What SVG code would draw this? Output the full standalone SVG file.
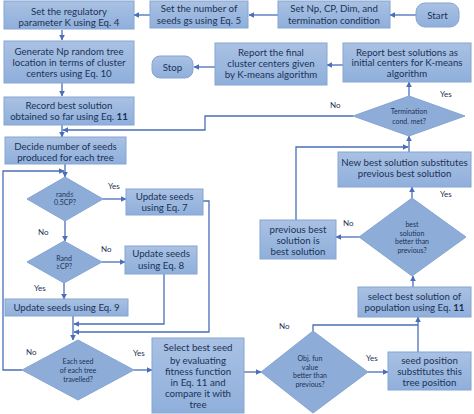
<svg xmlns="http://www.w3.org/2000/svg" width="474" height="414" viewBox="0 0 474 414">
<defs>
<linearGradient id="bg" x1="0" y1="0" x2="0" y2="1">
<stop offset="0" stop-color="#a9c1e3"/>
<stop offset="1" stop-color="#8fafdb"/>
</linearGradient>
<marker id="ah" viewBox="0 0 10 10" refX="9" refY="5" markerWidth="6" markerHeight="6" markerUnits="userSpaceOnUse" orient="auto">
<path d="M0,0 L10,5 L0,10 z" fill="#4a6fb8"/>
</marker>
</defs>
<style>
.b{fill:url(#bg);stroke:#86a5d2;stroke-width:1}
.d{fill:#8eacd8;stroke:#86a5d2;stroke-width:1}
.t{font-family:Lato,"Liberation Sans",sans-serif;font-size:9.7px;fill:#1b3256;text-anchor:middle}
.s{font-family:Lato,"Liberation Sans",sans-serif;font-size:7px;fill:#1b3256;text-anchor:middle}
.l{font-family:Lato,"Liberation Sans",sans-serif;font-size:8px;fill:#1b3256}
.c{fill:none;stroke:#4a6fb8;stroke-width:1.3;marker-end:url(#ah)}
.n{fill:none;stroke:#4a6fb8;stroke-width:1.3}
</style>
<rect width="474" height="414" fill="#ffffff"/>

<g id="connectors">
<path class="c" d="M416,15 L390,15"/>
<path class="c" d="M278,15 L249,15"/>
<path class="c" d="M150,15 L134,15"/>
<path class="c" d="M62,30 L62,40"/>
<path class="c" d="M62,83 L62,96"/>
<path class="c" d="M62,125 L62,137"/>
<path class="c" d="M353,116 L205,116 L205,130 L63,130"/>
<path class="c" d="M65,164 L65,177"/>
<path class="c" d="M22,370 L3,370 L3,171 L64,171"/>
<path class="c" d="M103,199 L126,199"/>
<path class="c" d="M65,221 L65,241"/>
<path class="c" d="M102,262 L125,262"/>
<path class="c" d="M64,283 L64,299"/>
<path class="c" d="M203,201 L209,201 L209,332 L74,332"/>
<path class="c" d="M164,274 L164,324 L74,324"/>
<path class="c" d="M73,316 L73,340"/>
<path class="c" d="M134,370 L152,370"/>
<path class="c" d="M244,372 L261,372"/>
<path class="c" d="M368,372 L388,372"/>
<path class="n" d="M313,331 L313,325 L418,325"/>
<path class="c" d="M418,352 L418,317"/>
<path class="c" d="M413,287 L413,276"/>
<path class="c" d="M412,198 L412,187"/>
<path class="c" d="M359,237 L336,237"/>
<path class="c" d="M296,220 L296,147 L408,147"/>
<path class="c" d="M409,152 L409,136"/>
<path class="c" d="M409,96 L409,82"/>
<path class="c" d="M343,65 L327,65"/>
<path class="c" d="M215,67 L194,67"/>
<text class="l" x="330" y="108">No</text>
<text class="l" x="440" y="97">Yes</text>
<text class="l" x="108" y="189">Yes</text>
<text class="l" x="38" y="235">No</text>
<text class="l" x="101" y="252">No</text>
<text class="l" x="34" y="291">Yes</text>
<text class="l" x="26" y="355">No</text>
<text class="l" x="133" y="356">Yes</text>
<text class="l" x="279" y="329">No</text>
<text class="l" x="366" y="361">Yes</text>
<text class="l" x="343" y="226">No</text>
<text class="l" x="440" y="197">Yes</text>
</g>

<g id="start"><rect class="b" x="416" y="3" width="43" height="24" rx="9"/><text class="t" x="437.5" y="18.5">Start</text></g>
<g id="setnp"><rect class="b" x="278" y="1" width="112" height="27"/><text class="t" x="334" y="12">Set Np, CP, Dim, and</text><text class="t" x="334" y="24">termination condition</text></g>
<g id="setgs"><rect class="b" x="150" y="1" width="98" height="27"/><text class="t" x="199" y="12">Set the number of</text><text class="t" x="199" y="24">seeds gs using Eq. 5</text></g>
<g id="setk"><rect class="b" x="4" y="1" width="130" height="28"/><text class="t" x="69" y="15">Set the regulatory</text><text class="t" x="69" y="26">parameter K using Eq. 4</text></g>
<g id="generate"><rect class="b" x="4" y="41" width="130" height="42"/><text class="t" x="69" y="55">Generate Np random tree</text><text class="t" x="69" y="66">location in terms of cluster</text><text class="t" x="69" y="77">centers using Eq. 10</text></g>
<g id="record"><rect class="b" x="4" y="97" width="130" height="28"/><text class="t" x="69" y="109">Record best solution</text><text class="t" x="69" y="120">obtained so far using Eq. <tspan font-weight="bold">11</tspan></text></g>
<g id="decide"><rect class="b" x="5" y="137" width="121" height="27"/><text class="t" x="65.5" y="150">Decide number of seeds</text><text class="t" x="65.5" y="160.5">produced for each tree</text></g>
<g id="rand1"><polygon class="d" points="65,177 103,199 65,221 27,199"/><text class="s" x="65" y="197">rand≤</text><text class="s" x="65" y="205">0.5CP?</text></g>
<g id="upd7"><rect class="b" x="126" y="189" width="77" height="26"/><text class="t" x="164.5" y="200">Update seeds</text><text class="t" x="164.5" y="211">using Eq. 7</text></g>
<g id="rand2"><polygon class="d" points="64,241 102,262 64,283 27,262"/><text class="s" x="64" y="261">Rand</text><text class="s" x="64" y="269">≥CP?</text></g>
<g id="upd8"><rect class="b" x="125" y="246" width="72" height="28"/><text class="t" x="161" y="257">Update seeds</text><text class="t" x="161" y="268.5">using Eq. 8</text></g>
<g id="upd9"><rect class="b" x="5" y="299" width="123" height="17"/><text class="t" x="66.5" y="311">Update seeds using Eq. 9</text></g>
<g id="eachseed"><polygon class="d" points="78,340 134,370 78,400 22,370"/><text class="s" x="78" y="364">Each seed</text><text class="s" x="78" y="373">of each tree</text><text class="s" x="78" y="382">travelled?</text></g>
<g id="selectseed"><rect class="b" x="152" y="338" width="92" height="75"/><text class="t" x="198" y="351">Select best seed</text><text class="t" x="198" y="364">by evaluating</text><text class="t" x="198" y="375">fitness function</text><text class="t" x="198" y="386">in Eq. 11 and</text><text class="t" x="198" y="396.5">compare it with</text><text class="t" x="198" y="408">tree</text></g>
<g id="obj"><polygon class="d" points="313,331 368,372 313,413 261,372"/><text class="s" x="310" y="361">Obj. fun</text><text class="s" x="310" y="369.5">value</text><text class="s" x="310" y="378">better than</text><text class="s" x="310" y="386.5">previous?</text></g>
<g id="seedpos"><rect class="b" x="388" y="352" width="83" height="38"/><text class="t" x="429.5" y="364">seed position</text><text class="t" x="429.5" y="375">substitutes this</text><text class="t" x="429.5" y="386">tree position</text></g>
<g id="selectpop"><rect class="b" x="358" y="287" width="113" height="30"/><text class="t" x="414.5" y="299.5">select best solution of</text><text class="t" x="414.5" y="310.5">population using Eq. <tspan font-weight="bold">11</tspan></text></g>
<g id="bestsol"><polygon class="d" points="412,198 466,237 412,276 359,237"/><text class="s" x="412" y="227">best</text><text class="s" x="412" y="235.5">solution</text><text class="s" x="412" y="244">better than</text><text class="s" x="412" y="252.5">previous?</text></g>
<g id="prevbest"><rect class="b" x="260" y="220" width="76" height="39"/><text class="t" x="298" y="233">previous best</text><text class="t" x="298" y="244">solution is</text><text class="t" x="298" y="255">best solution</text></g>
<g id="newbest"><rect class="b" x="338" y="152" width="133" height="35"/><text class="t" x="404.5" y="165.5">New best solution substitutes</text><text class="t" x="404.5" y="177">previous best solution</text></g>
<g id="term"><polygon class="d" points="409,96 465,116 409,136 353,116"/><text class="s" x="409" y="114">Termination</text><text class="s" x="409" y="124">cond. met?</text></g>
<g id="reportbest"><rect class="b" x="343" y="43" width="128" height="39"/><text class="t" x="407" y="55.5">Report best solutions as</text><text class="t" x="407" y="66">initial centers for K-means</text><text class="t" x="407" y="76.5">algorithm</text></g>
<g id="reportfinal"><rect class="b" x="215" y="43" width="112" height="42"/><text class="t" x="271" y="56">Report the final</text><text class="t" x="271" y="67">cluster centers given</text><text class="t" x="271" y="78">by K-means algorithm</text></g>
<g id="stop"><rect class="b" x="152" y="56" width="41" height="22" rx="8"/><text class="t" x="172.5" y="70.5">Stop</text></g>
</svg>
